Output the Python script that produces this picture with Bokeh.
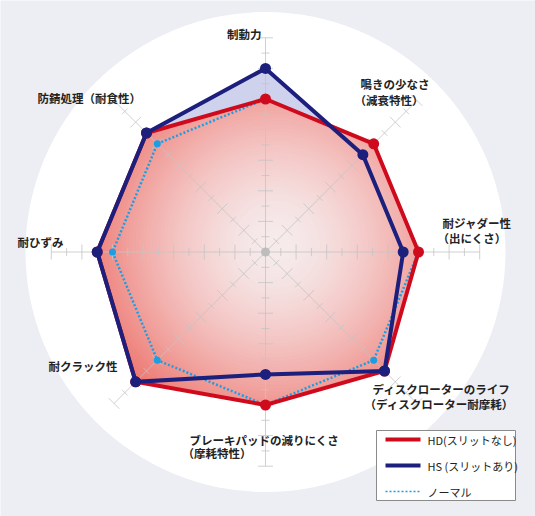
import numpy as np
from bokeh.plotting import figure
from bokeh.models import Range1d
from bokeh.core.properties import value
from bokeh.embed import file_html
from bokeh.resources import INLINE

# ---------------- data ----------------
categories = ["制動力", "鳴きの少なさ", "耐ジャダー性", "ディスクローターのライフ",
              "ブレーキパッドの減りにくさ", "耐クラック性", "耐ひずみ", "防錆処理（耐食性）"]
sub_labels = ["", "（減衰特性）", "（出にくさ）", "（ディスクローター耐摩耗）",
              "（摩耗特性）", "", "", ""]
hd_values = [5.0, 5.0, 5.0, 5.5, 5.0, 6.0, 5.5, 5.5]
hs_values = [6.0, 4.5, 4.5, 5.5, 4.0, 6.0, 5.5, 5.5]
normal_values = [5.0, 5.0, 5.0, 5.0, 5.0, 5.0, 5.0, 5.0]
series_names = ["HD(スリットなし)", "HS (スリットあり)", "ノーマル"]
axis_max = 7.0
tick_step = 0.5

# ---------------- layout ----------------
S = 30.6            # px per unit
CX, CY = 265.0, 251.5  # centre in page px
W, H = 535, 516
FONT = "Noto Sans CJK JP"

def d(xpx, ypx):
    return (xpx - CX) / S, (CY - ypx) / S

HD_COL = "#cf0a1d"
HS_COL = "#1c1f7c"
NO_COL = "#1b9fe2"
GRID = "#c4c4c4"

n = len(categories)
ang = np.deg2rad(90 - 45 * np.arange(n))
ux, uy = np.cos(ang), np.sin(ang)

def poly(vals):
    v = np.asarray(vals)
    return list(v * ux), list(v * uy)

x0, y0 = d(0, 0)
x1, y1 = d(W, H)
p = figure(width=W, height=H, x_range=Range1d(x0, x1), y_range=Range1d(y1, y0),
           output_backend="svg", toolbar_location=None, min_border=0)
p.axis.visible = False
p.grid.visible = False
p.outline_line_color = None
p.background_fill_color = "#eceef3"
p.border_fill_color = "#eceef3"

# white disc
p.circle(x=[0], y=[0], radius=240 / S, fill_color="white", line_color=None)

# HS fill (lavender)
hsx, hsy = poly(hs_values)
p.patch(hsx, hsy, fill_color="#cfd2ec", line_color=None)

# HD gradient fill via nested clipped rings
hdx, hdy = poly(hd_values)
px_, py_ = [], []
for i in range(n):
    j = (i + 1) % n
    t = np.linspace(0, 1, 40, endpoint=False)
    px_.extend(hdx[i] + (hdx[j] - hdx[i]) * t)
    py_.extend(hdy[i] + (hdy[j] - hdy[i]) * t)
P = np.column_stack([px_, py_])
R = np.hypot(P[:, 0], P[:, 1])
U = P / R[:, None]
c = np.array([0.35, 0.25])
c_in = np.array([0xf6, 0xec, 0xed])
c_out = np.array([0xee, 0x7a, 0x73])
ring_xs, ring_ys, ring_cols = [], [], []
for r in np.linspace(7.2, 0.5, 60):
    b = U @ c
    tt = b + np.sqrt(np.maximum(b ** 2 - c @ c + r ** 2, 0))
    sc = np.minimum(R, tt)
    ring_xs.append(list(U[:, 0] * sc))
    ring_ys.append(list(U[:, 1] * sc))
    f = min(r / 6.3, 1.0) ** 1.6
    col = c_in + (c_out - c_in) * f
    ring_cols.append("#%02x%02x%02x" % tuple(int(round(v)) for v in col))
p.patches(ring_xs, ring_ys, fill_color=ring_cols, line_color=None)

# grid axes
gx0, gy0, gx1, gy1 = [], [], [], []
for k in range(4):
    gx0.append(-axis_max * ux[k]); gy0.append(-axis_max * uy[k])
    gx1.append(axis_max * ux[k]); gy1.append(axis_max * uy[k])
p.segment(gx0, gy0, gx1, gy1, line_color=GRID, line_width=1, line_alpha=0.8)
tx0, ty0, tx1, ty1 = [], [], [], []
ticks = np.arange(tick_step, axis_max + 1e-9, tick_step)
for k in range(n):
    for v in ticks:
        L = (7.5 if abs(v - round(v)) < 1e-9 else 4.0) / S
        cx_, cy_ = v * ux[k], v * uy[k]
        nx, ny = -uy[k], ux[k]
        tx0.append(cx_ - L * nx); ty0.append(cy_ - L * ny)
        tx1.append(cx_ + L * nx); ty1.append(cy_ + L * ny)
p.segment(tx0, ty0, tx1, ty1, line_color=GRID, line_width=1, line_alpha=0.8)
p.scatter([0], [0], size=9, fill_color="#bdbdbd", line_color=None)

# series lines
nx_, ny_ = poly(normal_values)
p.line(nx_ + [nx_[0]], ny_ + [ny_[0]], line_color=NO_COL, line_width=2.5, line_dash="2 2")
p.scatter(nx_, ny_, size=7, fill_color=NO_COL, line_color=None)
p.line(hdx + [hdx[0]], hdy + [hdy[0]], line_color=HD_COL, line_width=4, line_join="miter")
p.scatter(hdx, hdy, size=11, fill_color=HD_COL, line_color=None)
p.line(hsx + [hsx[0]], hsy + [hsy[0]], line_color=HS_COL, line_width=4, line_join="miter")
p.scatter(hsx, hsy, size=11, fill_color=HS_COL, line_color=None)

# category labels
main_pos = [(261, 33, "right"), (360, 83, "left"), (442, 222, "left"), (372, 388, "left"),
            (189, 439, "left"), (48, 365, "left"), (17, 241, "left"), (37, 97, "left")]
sub_pos = [None, (354, 99), (437, 237), (364, 403), (182, 452), None, None, None]
for i in range(n):
    xpx, ypx, al = main_pos[i]
    lx, ly = d(xpx, ypx)
    p.text([lx], [ly], text=[categories[i]], text_font=value(FONT), text_font_size="11.5px",
           text_font_style="bold", text_color="#222222", text_align=al, text_baseline="middle")
    if sub_labels[i]:
        sx, sy = d(*sub_pos[i])
        p.text([sx], [sy], text=[sub_labels[i]], text_font=value(FONT), text_font_size="11.5px",
               text_font_style="bold", text_color="#222222", text_align="left", text_baseline="middle")

# legend
bl, bt = d(376, 430)
br, bb = d(515, 500)
p.quad(left=[bl], right=[br], top=[bt], bottom=[bb], fill_color="white",
       line_color="#8a8a8a", line_width=1)
leg_y = [439, 465, 491]
leg_cols = [HD_COL, HS_COL, NO_COL]
for k in range(3):
    ax, ay = d(385, leg_y[k])
    bx, _ = d(420, leg_y[k])
    if k < 2:
        p.segment([ax], [ay], [bx], [ay], line_color=leg_cols[k], line_width=4)
    else:
        p.segment([ax], [ay], [bx], [ay], line_color=leg_cols[k], line_width=1.5, line_dash="2 2")
    tx, ty = d(427, leg_y[k])
    p.text([tx], [ty], text=[series_names[k]], text_font=value(FONT), text_font_size="11px",
           text_color="#222222", text_align="left", text_baseline="middle")

open("out.html", "w").write(file_html(p, INLINE))
